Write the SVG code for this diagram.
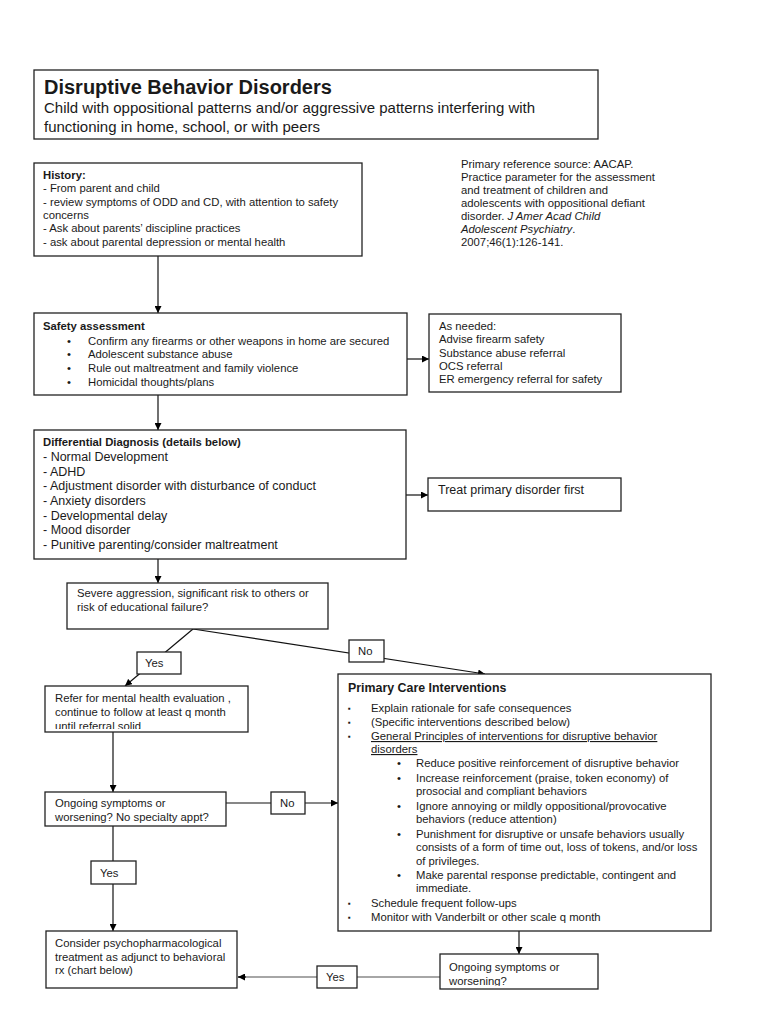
<svg xmlns="http://www.w3.org/2000/svg" width="768" height="1024" viewBox="0 0 768 1024">
<style>
text{font-family:"Liberation Sans",Arial,Helvetica,sans-serif;fill:#1a1a1a;font-size:11.3px}
.box{fill:#fff;stroke:#222;stroke-width:1.3}
.b{font-weight:bold}
.ln{stroke:#111;stroke-width:1.2;fill:none}
.gl{stroke:#888;stroke-width:1.4;fill:none}
.dd{font-size:12.5px}
.u{text-decoration:underline}
</style>
<defs>
<marker id="ah" viewBox="0 0 10 10" refX="10" refY="5" markerWidth="7" markerHeight="7" orient="auto" markerUnits="userSpaceOnUse"><path d="M0,0 L10,5 L0,10 z" fill="#000"/></marker>
<clipPath id="c1"><rect x="45" y="686" width="203" height="43"/></clipPath>
<clipPath id="c2"><rect x="45" y="792" width="181" height="31"/></clipPath>
<clipPath id="c3"><rect x="440" y="954" width="158" height="32"/></clipPath>
</defs>
<rect width="768" height="1024" fill="#fff"/>

<g id="title">
<rect class="box" x="34" y="70" width="564" height="69"/>
<text x="44" y="94" class="b" style="font-size:20px">Disruptive Behavior Disorders</text>
<text x="44" y="113" style="font-size:15px">Child with oppositional patterns and/or aggressive patterns interfering with</text>
<text x="44" y="132" style="font-size:15px">functioning in home, school, or with peers</text>
</g>

<g id="reference">
<text x="461" y="168">Primary reference source: AACAP.</text>
<text x="461" y="181">Practice parameter for the assessment</text>
<text x="461" y="194">and treatment of children and</text>
<text x="461" y="207">adolescents with oppositional defiant</text>
<text x="461" y="220">disorder. <tspan font-style="italic">J Amer Acad Child</tspan></text>
<text x="461" y="233" font-style="italic">Adolescent Psychiatry<tspan font-style="normal">.</tspan></text>
<text x="461" y="246">2007;46(1):126-141.</text>
</g>

<g id="connectors">
<path class="ln" d="M158,256 V313" marker-end="url(#ah)"/>
<path class="ln" d="M407,359 H429" marker-end="url(#ah)"/>
<path class="ln" d="M158,386 V430" marker-end="url(#ah)"/>
<path class="ln" d="M406,495 H428" marker-end="url(#ah)"/>
<path class="ln" d="M158,559 V583" marker-end="url(#ah)"/>
<path class="ln" d="M193,629 L125,686" marker-end="url(#ah)"/>
<path class="ln" d="M193,629 L485,674" marker-end="url(#ah)"/>
<path class="ln" d="M113,732 V792" marker-end="url(#ah)"/>
<path class="ln" d="M226,803 H338" marker-end="url(#ah)"/>
<path class="ln" d="M113,826 V931" marker-end="url(#ah)"/>
<path class="ln" d="M519,931 V954" marker-end="url(#ah)"/>
<path class="gl" d="M440,977 H238"/>
<path class="ln" d="M246,977 H238" marker-end="url(#ah)"/>
</g>

<g id="history">
<rect class="box" x="34" y="163" width="328" height="93"/>
<text x="43" y="179" class="b">History:</text>
<text x="43" y="192">- From parent and child</text>
<text x="43" y="206">- review symptoms of ODD and CD, with attention to safety</text>
<text x="43" y="219">concerns</text>
<text x="43" y="232">- Ask about parents’ discipline practices</text>
<text x="43" y="246">- ask about parental depression or mental health</text>
</g>

<g id="safety">
<rect class="box" x="34" y="313" width="373" height="82"/>
<text x="43" y="330" class="b">Safety assessment</text>
<text x="67" y="345">•</text><text x="88" y="345">Confirm any firearms or other weapons in home are secured</text>
<text x="67" y="358">•</text><text x="88" y="358">Adolescent substance abuse</text>
<text x="67" y="372">•</text><text x="88" y="372">Rule out maltreatment and family violence</text>
<text x="67" y="386">•</text><text x="88" y="386">Homicidal thoughts/plans</text>
</g>

<g id="asneeded">
<rect class="box" x="429" y="314" width="192" height="78"/>
<text x="439" y="330">As needed:</text>
<text x="439" y="343">Advise firearm safety</text>
<text x="439" y="357">Substance abuse referral</text>
<text x="439" y="370">OCS referral</text>
<text x="439" y="383">ER emergency referral for safety</text>
</g>

<g id="differential">
<rect class="box" x="34" y="430" width="372" height="129"/>
<text x="43" y="446" class="b">Differential Diagnosis (details below)</text>
<text x="43" y="461" class="dd">- Normal Development</text>
<text x="43" y="476" class="dd">- ADHD</text>
<text x="43" y="490" class="dd">- Adjustment disorder with disturbance of conduct</text>
<text x="43" y="505" class="dd">- Anxiety disorders</text>
<text x="43" y="520" class="dd">- Developmental delay</text>
<text x="43" y="534" class="dd">- Mood disorder</text>
<text x="43" y="549" class="dd">- Punitive parenting/consider maltreatment</text>
</g>

<g id="treat">
<rect class="box" x="428" y="478" width="193" height="33"/>
<text x="438" y="494" class="dd">Treat primary disorder first</text>
</g>

<g id="severe">
<rect class="box" x="67" y="583" width="261" height="46"/>
<text x="77" y="597">Severe aggression, significant risk to others or</text>
<text x="77" y="611">risk of educational failure?</text>
</g>

<g id="yes1">
<rect class="box" x="137" y="652" width="44" height="22"/>
<text x="145" y="667">Yes</text>
</g>

<g id="no1">
<rect class="box" x="349" y="640" width="35" height="22"/>
<text x="358" y="655">No</text>
</g>

<g id="refer">
<rect class="box" x="45" y="686" width="203" height="46"/>
<g clip-path="url(#c1)">
<text x="55" y="702">Refer for mental health evaluation ,</text>
<text x="55" y="716">continue to follow at least q month</text>
<text x="55" y="730">until referral solid</text>
</g>
</g>

<g id="ongoing1">
<rect class="box" x="45" y="792" width="181" height="34"/>
<g clip-path="url(#c2)">
<text x="55" y="807">Ongoing symptoms  or</text>
<text x="55" y="821">worsening? No specialty appt?</text>
</g>
</g>

<g id="no2">
<rect class="box" x="271" y="792" width="34" height="22"/>
<text x="280" y="807">No</text>
</g>

<g id="primary">
<rect class="box" x="338" y="674" width="373" height="257"/>
<text x="348" y="692" class="b" style="font-size:12.4px">Primary Care Interventions</text>
<text x="348" y="711" style="font-size:8px">▪</text><text x="371" y="712">Explain rationale for  safe consequences</text>
<text x="348" y="725" style="font-size:8px">▪</text><text x="371" y="726">(Specific interventions described below)</text>
<text x="348" y="739" style="font-size:8px">▪</text><text x="371" y="740" class="u">General Principles of interventions for disruptive behavior</text>
<text x="371" y="753" class="u">disorders</text>
<text x="397" y="767">•</text><text x="416" y="767">Reduce positive reinforcement of disruptive behavior</text>
<text x="397" y="782">•</text><text x="416" y="782">Increase reinforcement (praise, token economy) of</text>
<text x="416" y="795">prosocial and compliant behaviors</text>
<text x="397" y="810">•</text><text x="416" y="810">Ignore annoying or mildly oppositional/provocative</text>
<text x="416" y="823">behaviors (reduce attention)</text>
<text x="397" y="838">•</text><text x="416" y="838">Punishment for disruptive or unsafe behaviors usually</text>
<text x="416" y="851">consists of a form of time out, loss of tokens, and/or loss</text>
<text x="416" y="865">of privileges.</text>
<text x="397" y="879">•</text><text x="416" y="879">Make parental response predictable, contingent and</text>
<text x="416" y="892">immediate.</text>
<text x="348" y="906" style="font-size:8px">▪</text><text x="371" y="907">Schedule frequent follow-ups</text>
<text x="348" y="920" style="font-size:8px">▪</text><text x="371" y="921">Monitor with Vanderbilt or other scale q month</text>
</g>

<g id="yes2">
<rect class="box" x="91" y="861" width="45" height="23"/>
<text x="100" y="877">Yes</text>
</g>

<g id="consider">
<rect class="box" x="46" y="931" width="191" height="57"/>
<text x="55" y="947">Consider psychopharmacological</text>
<text x="55" y="961">treatment as adjunct to behavioral</text>
<text x="55" y="974">rx (chart below)</text>
</g>

<g id="ongoing2">
<rect class="box" x="440" y="954" width="158" height="35"/>
<g clip-path="url(#c3)">
<text x="449" y="971">Ongoing symptoms  or</text>
<text x="449" y="985">worsening?</text>
</g>
</g>

<g id="yes3">
<rect class="box" x="317" y="966" width="40" height="22"/>
<text x="326" y="981">Yes</text>
</g>
</svg>
